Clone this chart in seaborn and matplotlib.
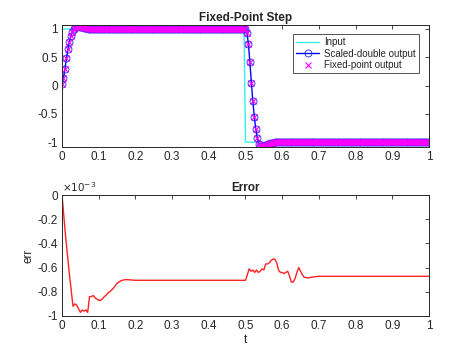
import numpy as np
import matplotlib
matplotlib.use("Agg")
import matplotlib.pyplot as plt
import seaborn as sns

## DATA ##

# sample times for the step response (dt = 0.004)
t = np.linspace(0, 1, 251)

step_in = [1.0] * 125 + [-1.0] * 126

rise = [0.02, 0.13, 0.30, 0.48, 0.64, 0.77, 0.88, 0.95, 1.00, 1.03,
        1.04, 1.045, 1.04, 1.035, 1.03, 1.02, 1.015, 1.01, 1.005, 1.0]
fall = [0.93, 0.73, 0.41, 0.05, -0.28, -0.55, -0.77, -0.92, -1.03, -1.07,
        -1.075, -1.07, -1.06, -1.05, -1.04, -1.03, -1.02, -1.015, -1.01, -1.005]
scaled_out = rise + [1.0] * 106 + fall + [-1.0] * 105
fixed_out = list(scaled_out)

# error trace (x1e-3)
err_t = [0, 0.01, 0.02, 0.03, 0.035, 0.04, 0.045, 0.05, 0.055, 0.06, 0.065,
         0.07, 0.075, 0.08, 0.085, 0.09, 0.095, 0.1, 0.105, 0.11, 0.115,
         0.12, 0.125, 0.13, 0.14, 0.15, 0.16, 0.17, 0.18, 0.2, 0.5,
         0.505, 0.51, 0.515, 0.52, 0.525, 0.53, 0.535, 0.54, 0.545, 0.55,
         0.555, 0.56, 0.565, 0.57, 0.575, 0.58, 0.585, 0.59, 0.595, 0.6,
         0.605, 0.61, 0.615, 0.62, 0.625, 0.63, 0.635, 0.64, 0.645, 0.65,
         0.655, 0.66, 0.67, 0.68, 0.69, 0.7, 1.0]
err_v = [0, -0.35, -0.65, -0.92, -0.90, -0.91, -0.94, -0.97, -0.95, -0.96, -0.95,
         -0.97, -0.84, -0.84, -0.83, -0.85, -0.86, -0.87, -0.87, -0.86, -0.84,
         -0.83, -0.81, -0.80, -0.77, -0.73, -0.71, -0.70, -0.70, -0.705, -0.705,
         -0.66, -0.61, -0.63, -0.62, -0.64, -0.62, -0.64, -0.63, -0.61, -0.62,
         -0.57, -0.57, -0.56, -0.54, -0.53, -0.53, -0.56, -0.62, -0.64, -0.64,
         -0.65, -0.64, -0.63, -0.67, -0.72, -0.72, -0.69, -0.64, -0.60, -0.63,
         -0.66, -0.68, -0.685, -0.68, -0.675, -0.672, -0.672]

##########

sns.set_style("white")
plt.rcParams['font.family'] = ['Arial', 'Liberation Sans', 'DejaVu Sans']
plt.rcParams['font.size'] = 8

fig = plt.figure(figsize=(4.74, 3.55), dpi=100)
ax1 = fig.add_axes([62 / 474, 1 - 147 / 355, 367 / 474, 122 / 355])
ax2 = fig.add_axes([62 / 474, 1 - 316 / 355, 367 / 474, 121 / 355])

sns.lineplot(x=t, y=step_in, ax=ax1, color="#33f0f0", lw=1, label="Input")
sns.lineplot(x=t, y=scaled_out, ax=ax1, color="#0000ff", lw=1, marker="o",
             markersize=5, markerfacecolor="none", markeredgecolor="#2020ff",
             markeredgewidth=0.6, label="Scaled-double output")
ax1.plot(t, fixed_out, ls="none", marker="x", color="#ff00ff", markersize=4.5,
         markeredgewidth=0.8, label="Fixed-point output")

ax1.set_xlim(0, 1)
ax1.set_ylim(-1.085, 1.07)
ax1.set_xticks(np.arange(0, 1.01, 0.1))
ax1.set_xticklabels(["0", "0.1", "0.2", "0.3", "0.4", "0.5", "0.6", "0.7", "0.8", "0.9", "1"])
ax1.set_yticks([-1, -0.5, 0, 0.5, 1])
ax1.set_yticklabels(["-1", "-0.5", "0", "0.5", "1"])
ax1.set_title("Fixed-Point Step", fontsize=8.5, fontweight="bold", pad=3)
leg = ax1.legend(loc="upper right", fontsize=7, frameon=True, fancybox=False,
                 edgecolor="#262626", borderpad=0.3, labelspacing=0.15,
                 handlelength=2.4, handletextpad=0.5,
                 bbox_to_anchor=(0.985, 0.965))
leg.get_frame().set_linewidth(0.7)

sns.lineplot(x=err_t, y=err_v, ax=ax2, color="#ff2222", lw=1)
ax2.set_xlim(0, 1)
ax2.set_ylim(-1, 0)
ax2.set_xticks(np.arange(0, 1.01, 0.1))
ax2.set_xticklabels(["0", "0.1", "0.2", "0.3", "0.4", "0.5", "0.6", "0.7", "0.8", "0.9", "1"])
ax2.set_yticks([-1, -0.8, -0.6, -0.4, -0.2, 0])
ax2.set_yticklabels(["-1", "-0.8", "-0.6", "-0.4", "-0.2", "0"])
ax2.set_title("Error", fontsize=8.5, fontweight="bold", pad=3)
ax2.set_xlabel("t", fontsize=8.5, labelpad=1)
ax2.set_ylabel("err", fontsize=8.5, labelpad=2)
ax2.text(0, 1.01, r"$\times10^{-3}$", transform=ax2.transAxes, fontsize=7.5,
         color="#262626", va="bottom", ha="left")

for ax in (ax1, ax2):
    for s in ax.spines.values():
        s.set_color("#262626")
        s.set_linewidth(0.7)
    ax.tick_params(direction="in", length=3, width=0.6, colors="#262626",
                   labelsize=8.5, top=True, right=True, pad=3)

fig.savefig("out.png", dpi=100)
